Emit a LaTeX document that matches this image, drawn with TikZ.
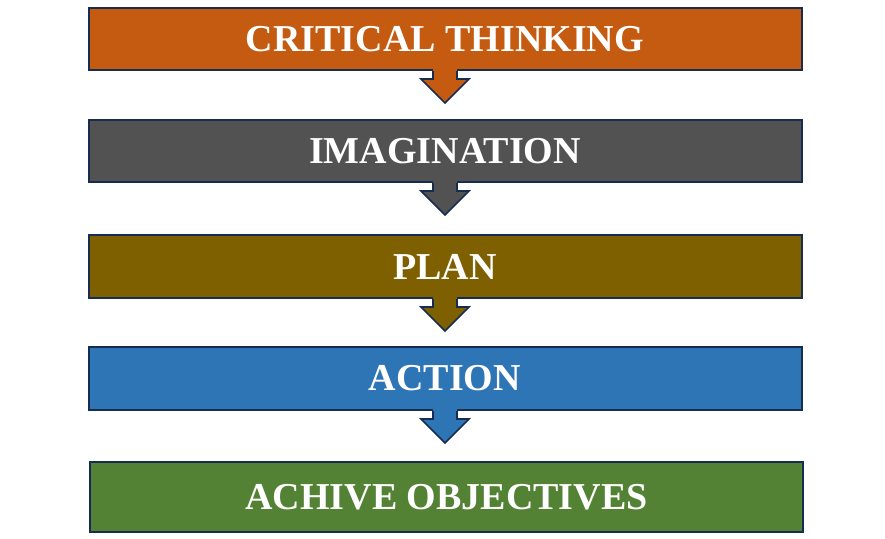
\documentclass[tikz,border=0pt]{standalone}
\usepackage{fontspec}
\setmainfont{Liberation Serif}
\definecolor{cOrange}{HTML}{C55A11}
\definecolor{cGrey}{HTML}{525252}
\definecolor{cOlive}{HTML}{7F6000}
\definecolor{cBlue}{HTML}{2E75B6}
\definecolor{cGreen}{HTML}{548235}
\definecolor{cNavy}{HTML}{172C51}
\tikzset{
  stagebox/.style={draw=cNavy, line width=2pt, minimum width=713pt, inner sep=0pt,
    text=white, font=\bfseries\fontsize{38}{40}\selectfont},
  flowarrow/.style={draw=cNavy, line width=1.6pt, line join=miter}
}
\newcommand{\stagearrow}[2]{%
  \begin{scope}[shift={(#1.south)}]
    \fill[#2] (-12,-2) -- (-12,8) -- (-24,8) -- (0,32) -- (24,8) -- (12,8) -- (12,-2) -- cycle;
    \draw[flowarrow] (-12,0) -- (-12,8) -- (-24,8) -- (0,32) -- (24,8) -- (12,8) -- (12,0);
  \end{scope}}
\begin{document}
\begin{tikzpicture}[x=1pt,y=-1pt]
\useasboundingbox (0,0) rectangle (885,538);
\node[stagebox, fill=cOrange, minimum height=62pt] (b1) at (445,39) {CRITICAL THINKING};
\node[stagebox, fill=cGrey, minimum height=62pt] (b2) at (445,151) {IMAGINATION};
\node[stagebox, fill=cOlive, minimum height=63pt] (b3) at (445,266.5) {PLAN};
\node[stagebox, fill=cBlue, minimum height=63pt] (b4) at (445,378.5) {ACTION};
\node[stagebox, fill=cGreen, minimum height=70pt] (b5) at (446.5,497) {ACHIVE OBJECTIVES};
\stagearrow{b1}{cOrange}
\stagearrow{b2}{cGrey}
\stagearrow{b3}{cOlive}
\stagearrow{b4}{cBlue}
\end{tikzpicture}
\end{document}
